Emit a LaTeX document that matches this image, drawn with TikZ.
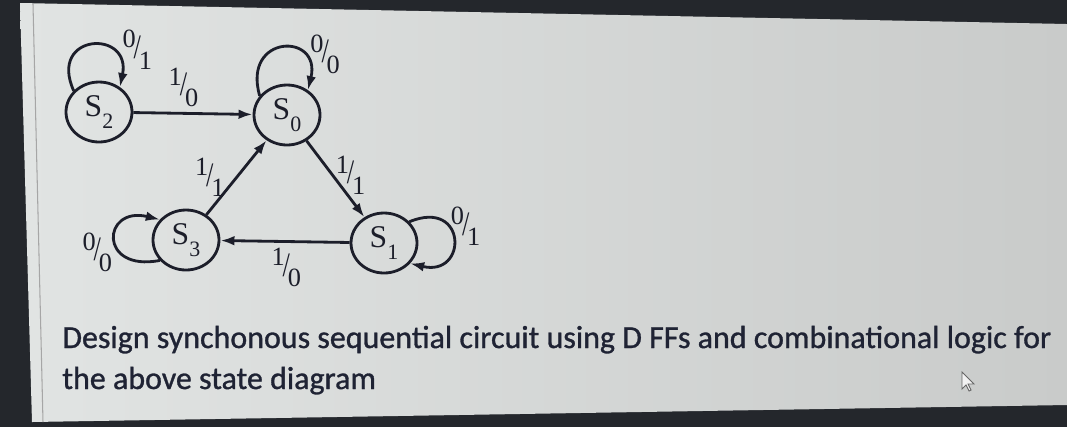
\documentclass[tikz,border=0pt]{standalone}
\usepackage{fontspec}
\setmainfont{Liberation Serif}
\newfontfamily\uifont{Carlito}[FakeBold = 1]
\usetikzlibrary{shapes.geometric, arrows.meta}
\definecolor{frame}{HTML}{24272C}
\definecolor{paneL}{HTML}{E1E4E3}
\definecolor{paneR}{HTML}{C9CBCA}
\definecolor{ink}{HTML}{1C1E2A}
\definecolor{txt}{HTML}{1F2334}
\newcommand{\st}[1]{S\raisebox{-.38em}{\fontsize{12.5}{12.5}\selectfont #1}}
\newcommand{\io}[2]{\raisebox{.4em}{#1}\kern-.08em\scalebox{1}[1.3]{/}\kern-.08em\raisebox{-.4em}{#2}}
\tikzset{
  state/.style = {ellipse, draw = ink, line width = 1.6pt, minimum width = 1.32cm,
    minimum height = 1.2cm, inner sep = 0pt, text = ink,
    font = \fontsize{18}{20}\selectfont},
  io/.style = {inner sep = 0pt, text = ink, font = \fontsize{15}{17}\selectfont},
  wire/.style = {draw = ink, line width = 1.6pt, -{Latex[length = 8pt, width = 5.5pt]}}
}
\begin{document}
\begin{tikzpicture}[x = .02cm, y = -.02cm]
  \useasboundingbox (0, 0) rectangle (1067, 427);
  \fill[frame] (0, 0) rectangle (1067, 427);
  \shade[left color = paneL, right color = paneR] (20, 3) -- (1067, 24) --
  (1067, 405) -- (32, 422) -- cycle;
  \draw[gray!70, line width = .6pt] (33, 4) -- (43, 422);
  % states
  \node[state] (s2) at (99, 112) {\st{2}};
  \node[state] (s0) at (287, 115) {\st{0}};
  \node[state] (s3) at (186, 240) {\st{3}};
  \node[state] (s1) at (384, 243) {\st{1}};
  % transitions
  \draw[wire] (s2) -- (s0) node[io, pos = .42, above = 3pt] {\io{1}{0}};
  \draw[wire] (s3) -- (s0) node[io, pos = .5, left = 6pt] {\io{1}{1}};
  \draw[wire] (s0) -- (s1) node[io, pos = .45, right = 1pt] {\io{1}{1}};
  \draw[wire] (s1) -- (s3) node[io, pos = .49, below = 3pt] {\io{1}{0}};
  \draw[wire] (s2.140) .. controls +(-26, -58) and +(12, -58) .. (s2.50)
  node[io, pos = .75, right = 4pt, yshift = 3pt] {\io{0}{1}};
  \draw[wire] (s0.145) .. controls +(-18, -62) and +(14, -58) .. (s0.50)
  node[io, pos = .75, right = 3pt, yshift = 2pt] {\io{0}{0}};
  \draw[wire] (s3.218) .. controls +(-62, 12) and +(-58, -14) .. (s3.142)
  node[io, pos = .45, left = 1pt, yshift = -5pt] {\io{0}{0}};
  \draw[wire] (s1.40) .. controls +(58, -24) and +(58, 14) .. (s1.-38)
  node[io, pos = .3, right = 2pt, yshift = -2pt] {\io{0}{1}};
  % question text
  \node[anchor = base west, inner sep = 0pt, text = txt,
  font = \uifont\fontsize{18.2}{23}\selectfont] (q1) at (62, 348)
  {Design synchonous sequential circuit using D FFs and combinational logic for};
  \node[anchor = base west, inner sep = 0pt, text = txt,
  font = \uifont\fontsize{18.2}{23}\selectfont] (q2) at (62, 389)
  {the above state diagram};
  % mouse pointer
  \filldraw[fill = white!90!gray, draw = gray!80!black, line width = .5pt]
  (962, 372) -- (962, 389) -- (966, 385) -- (969, 391) -- (971, 390) --
  (968, 384) -- (974, 384) -- cycle;
\end{tikzpicture}
\end{document}
